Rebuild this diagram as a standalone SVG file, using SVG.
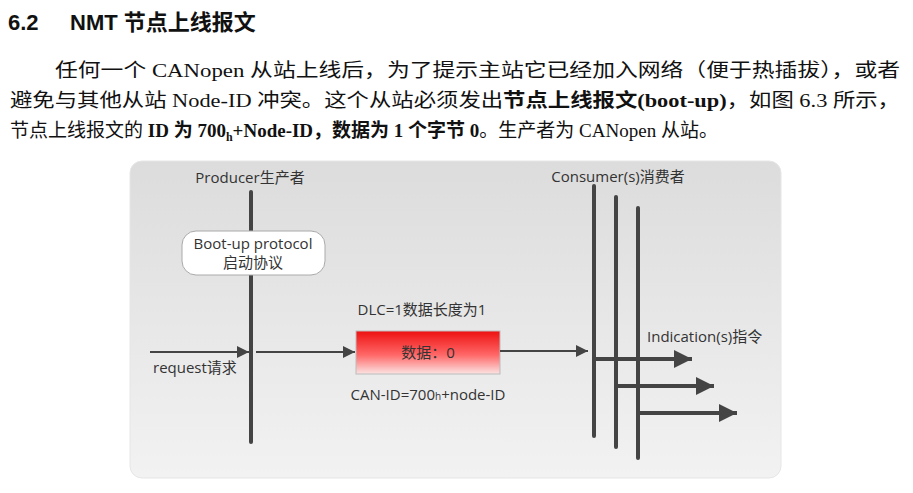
<svg xmlns="http://www.w3.org/2000/svg" width="913" height="493" viewBox="0 0 913 493">
<defs>
<linearGradient id="bg" x1="0" y1="0" x2="0" y2="1"><stop offset="0" stop-color="#dcdcdc"/><stop offset="1" stop-color="#f2f2f2"/></linearGradient>
<linearGradient id="red" x1="0" y1="0" x2="0" y2="1"><stop offset="0" stop-color="#ee1111"/><stop offset="0.55" stop-color="#f66"/><stop offset="1" stop-color="#fbe3e3"/></linearGradient>
<marker id="ah" viewBox="0 0 10 10" refX="10" refY="5" markerWidth="6" markerHeight="6" orient="auto" markerUnits="strokeWidth"><path d="M0,0L10,5L0,10z" fill="#444"/></marker>
<marker id="ahb" viewBox="0 0 10 10" refX="10" refY="5" markerWidth="4.5" markerHeight="4.5" orient="auto" markerUnits="strokeWidth"><path d="M0,0L10,5L0,10z" fill="#444"/></marker>
</defs>
<style>
.t{font-family:"Liberation Serif","Noto Sans CJK SC",serif;font-size:19px;fill:#111}
.b{font-weight:bold}
.d{font-family:"Open Sans","Noto Sans CJK SC",sans-serif;font-size:15px;fill:#333}
.v{stroke:#444;stroke-width:4;stroke-linecap:round}
.c{stroke:#444;stroke-width:2;fill:none}
.c.k{stroke-width:4}
</style>
<rect width="913" height="493" fill="#fff"/>
<text x="8" y="30" font-family="Liberation Sans,Noto Sans CJK SC,sans-serif" font-size="22" font-weight="bold" fill="#111">6.2<tspan x="70">NMT 节点上线报文</tspan></text>
<text class="t" x="55" y="77" textLength="845" lengthAdjust="spacingAndGlyphs">任何一个 CANopen 从站上线后，为了提示主站它已经加入网络（便于热插拔），或者</text>
<text class="t" x="10" y="107" textLength="890" lengthAdjust="spacingAndGlyphs">避免与其他从站 Node-ID 冲突。这个从站必须发出<tspan class="b">节点上线报文(boot-up)</tspan>，如图 6.3 所示，</text>
<text class="t" x="10" y="137">节点上线报文的 <tspan class="b">ID 为 700</tspan><tspan class="b" font-size="12" dy="4">h</tspan><tspan class="b" dy="-4">+Node-ID，数据为 1 个字节 0</tspan>。生产者为 CANopen 从站。</text>
<g id="panel"><rect x="130" y="161" width="651" height="317" rx="12" fill="url(#bg)" stroke="#e6e6e6"/></g>
<g id="producer">
<text class="d" x="250" y="183" text-anchor="middle">Producer生产者</text>
<line class="v" x1="251" y1="192" x2="251" y2="442"/>
</g>
<g id="bootup">
<rect x="182" y="231" width="143" height="44" rx="14" fill="#fff" stroke="#aaa"/>
<text class="d" x="253" y="249" text-anchor="middle">Boot-up protocol</text>
<text class="d" x="253" y="268" text-anchor="middle">启动协议</text>
</g>
<g id="frame">
<text class="d" x="422" y="315" text-anchor="middle">DLC=1数据长度为1</text>
<rect x="356" y="331" width="144" height="43" fill="url(#red)" stroke="#bbb"/>
<text class="d" x="428" y="358" text-anchor="middle">数据：0</text>
<text class="d" x="428" y="400" text-anchor="middle">CAN-ID=700<tspan font-size="10">h</tspan>+node-ID</text>
</g>
<g id="consumers">
<text class="d" x="618" y="182" text-anchor="middle">Consumer(s)消费者</text>
<line class="v" x1="594" y1="186" x2="594" y2="436"/>
<line class="v" x1="616" y1="197" x2="616" y2="447"/>
<line class="v" x1="638" y1="208" x2="638" y2="458"/>
<text class="d" x="647" y="342">Indication(s)指令</text>
</g>
<g id="connectors">
<line class="c" x1="150" y1="352" x2="249" y2="352" marker-end="url(#ah)"/>
<text class="d" x="153" y="373">request请求</text>
<line class="c" x1="256" y1="352" x2="355" y2="352" marker-end="url(#ah)"/>
<line class="c" x1="500" y1="351" x2="588" y2="351" marker-end="url(#ah)"/>
<line class="c k" x1="594" y1="359" x2="692" y2="359" marker-end="url(#ahb)"/>
<line class="c k" x1="616" y1="386" x2="714" y2="386" marker-end="url(#ahb)"/>
<line class="c k" x1="638" y1="413" x2="737" y2="413" marker-end="url(#ahb)"/>
</g>
</svg>
